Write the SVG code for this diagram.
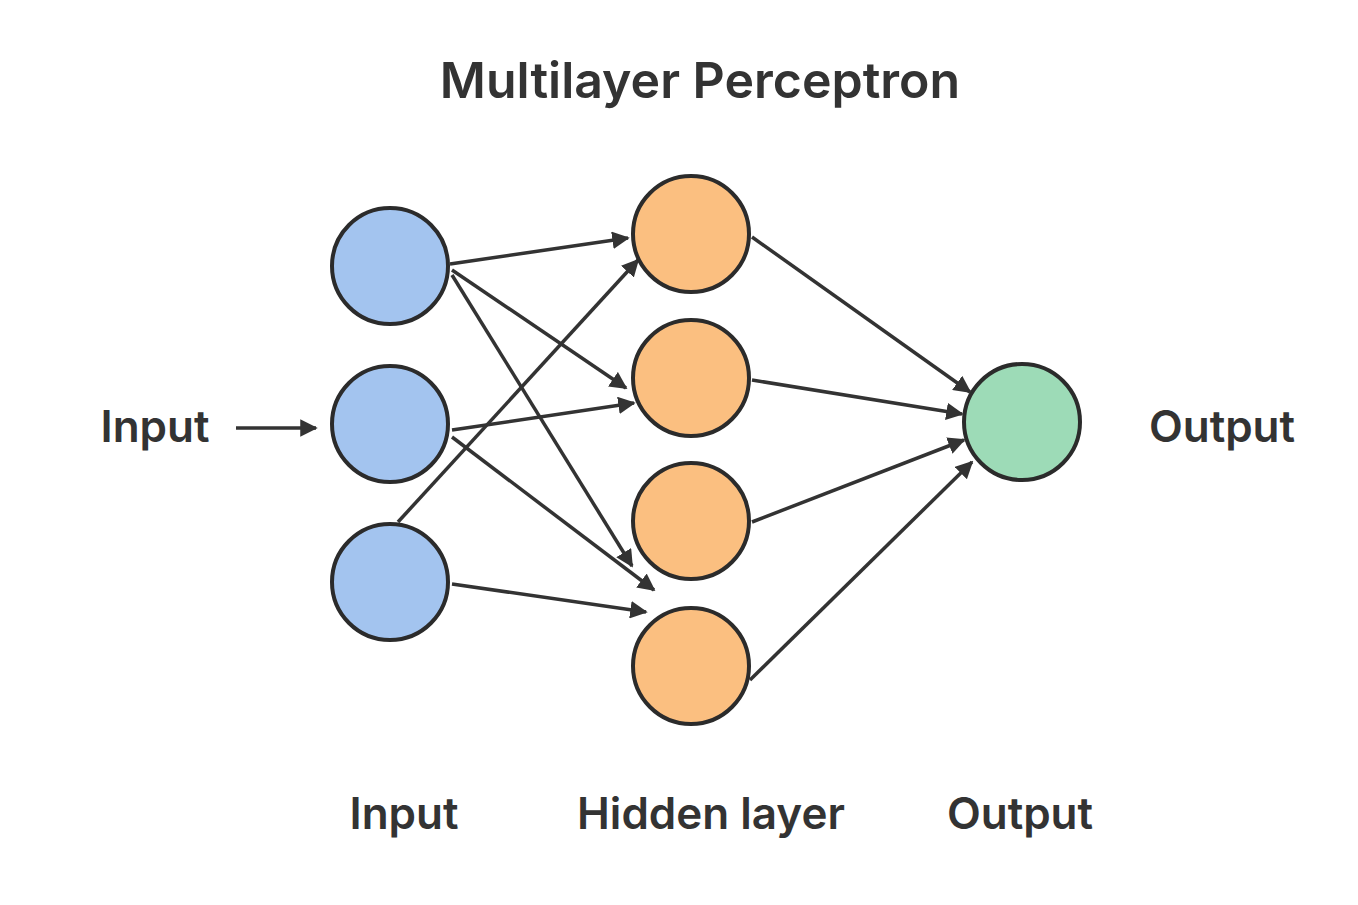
<svg xmlns="http://www.w3.org/2000/svg" width="1358" height="905" viewBox="0 0 1358 905">
<style>
text{font-family:"Inter","DejaVu Sans",sans-serif;font-weight:600;fill:#333;text-anchor:middle;dominant-baseline:middle}
.n{stroke:#2b2b2b;stroke-width:4}
.in{fill:#a3c4ef}.hd{fill:#fbbf80}.out{fill:#9ddbb7}
#edges line{stroke:#333;stroke-width:3.5;marker-end:url(#a)}
</style>
<defs><marker id="a" viewBox="0 0 10 10" refX="9" refY="5" markerWidth="5" markerHeight="5" orient="auto"><path d="M0,0L10,5L0,10z" fill="#333"/></marker></defs>
<rect width="1358" height="905" fill="#fff"/>
<text x="700" y="84" font-size="50">Multilayer Perceptron</text>
<text x="155" y="430" font-size="44">Input</text>
<text x="1222" y="430" font-size="44">Output</text>
<text x="404" y="817" font-size="44">Input</text>
<text x="711" y="817" font-size="44">Hidden layer</text>
<text x="1020" y="817" font-size="44">Output</text>
<g id="edges">
<line x1="236" y1="428" x2="316" y2="428"/>
<line x1="450" y1="264" x2="628" y2="238"/>
<line x1="452" y1="270" x2="626" y2="388"/>
<line x1="452" y1="275" x2="632" y2="566"/>
<line x1="452" y1="430" x2="634" y2="403"/>
<line x1="452" y1="437" x2="654" y2="590"/>
<line x1="398" y1="522" x2="638" y2="260"/>
<line x1="452" y1="584" x2="646" y2="612"/>
<line x1="752" y1="237" x2="970" y2="392"/>
<line x1="752" y1="380" x2="962" y2="414"/>
<line x1="752" y1="522" x2="964" y2="440"/>
<line x1="750" y1="680" x2="972" y2="462"/>
</g>
<g id="i1"><circle class="n in" cx="390" cy="266" r="58"/></g>
<g id="i2"><circle class="n in" cx="390" cy="424" r="58"/></g>
<g id="i3"><circle class="n in" cx="390" cy="582" r="58"/></g>
<g id="h1"><circle class="n hd" cx="691" cy="234" r="58"/></g>
<g id="h2"><circle class="n hd" cx="691" cy="378" r="58"/></g>
<g id="h3"><circle class="n hd" cx="691" cy="521" r="58"/></g>
<g id="h4"><circle class="n hd" cx="691" cy="666" r="58"/></g>
<g id="o1"><circle class="n out" cx="1022" cy="422" r="58"/></g>
</svg>
